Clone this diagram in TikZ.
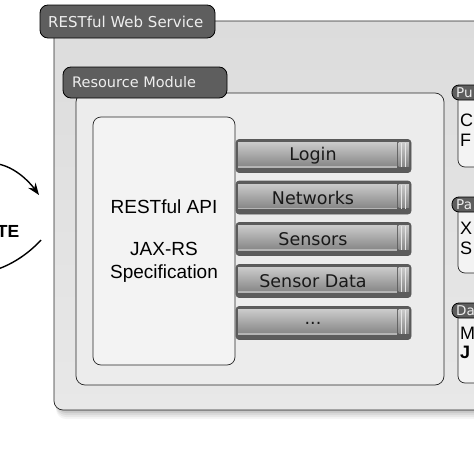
\documentclass[tikz,border=0pt]{standalone}
\usepackage{fontspec}
\setmainfont{Liberation Sans}
\newfontfamily\dvfont{DejaVu Sans}
\usetikzlibrary{arrows.meta}
\definecolor{tabfill}{HTML}{5E5E5E}
\definecolor{tabtext}{HTML}{EEEEEE}
\definecolor{outertop}{HTML}{DCDCDC}
\definecolor{outerbot}{HTML}{E8E8E8}
\definecolor{modfill}{HTML}{ECECEC}
\definecolor{innerfill}{HTML}{F3F3F3}
\definecolor{bardark}{HTML}{5C5C5C}
\definecolor{bartop}{HTML}{CACACA}
\definecolor{barmid}{HTML}{E2E2E2}
\definecolor{barbot}{HTML}{888888}
\definecolor{capline}{HTML}{E6E6E6}
\tikzset{
  tabbox/.style={draw=black, line width=0.8pt, fill=tabfill, rounded corners=8pt},
  tablabel/.style={text=tabtext, anchor=west, inner sep=0pt, font=\dvfont\fontsize{15}{15}\selectfont},
  smalltablabel/.style={text=tabtext, anchor=west, inner sep=0pt, font=\dvfont\fontsize{13.5}{13.5}\selectfont},
  panel/.style={draw=black!85, line width=0.7pt, rounded corners=9pt},
  bartext/.style={inner sep=0pt, text=black!90, font=\dvfont\fontsize{17.5}{17.5}\selectfont},
  apitext/.style={inner sep=0pt, align=center, font=\fontsize{19}{23}\selectfont},
  sidetext/.style={inner sep=0pt, anchor=west, font=\fontsize{18}{18}\selectfont},
  arc/.style={line width=1.4pt, black},
}
\newcommand{\resbar}[3]{%
  % #1 name, #2 centre y, #3 text
  \draw[draw=black!65, fill=bardark, rounded corners=3pt, line width=0.6pt] (236,#2-16.5) rectangle (411,#2+16.5);
  \fill[top color=bartop, middle color=barmid, bottom color=barbot] (238,#2-13.5) rectangle (397,#2+10);
  \fill[barmid!80!black] (238,#2+10) rectangle (397,#2+11.5);
  \fill[top color=bartop, middle color=barmid, bottom color=barbot] (398.5,#2-13.5) rectangle (409,#2+10);
  \draw[capline, line width=1pt] (401,#2-13) -- (401,#2+11) (405.5,#2-13) -- (405.5,#2+11);
  \node[bartext] (#1) at (313,#2) {#3};
}
\begin{document}
\begin{tikzpicture}[x=1pt,y=-1pt]
\useasboundingbox (0,0) rectangle (474,474);
\clip (0,0) rectangle (474,474);
\fill[white] (0,0) rectangle (474,474);

% left arcs
\coordinate (a1s) at (-2,164);
\coordinate (a1e) at (39,195);
\coordinate (a2s) at (41,240);
\coordinate (a2e) at (-2,269);
\draw[arc, -{Stealth[length=12pt,width=9pt]}] (a1s) .. controls (14,167) and (28,180) .. (a1e);
\draw[arc] (a2s) .. controls (30,252) and (15,263) .. (a2e);
\node[anchor=east, inner sep=0pt, font=\bfseries\fontsize{17.5}{17.5}\selectfont] (te) at (19.5,231) {TE};

% soft shadow of the outer box
\foreach \d/\o in {9/0.04,7/0.05,5/0.06,3/0.07,1/0.08}{
  \fill[black, opacity=\o, rounded corners=10pt] (56,30) rectangle (530,410+\d);
}

% outer web service box
\draw[panel, top color=outertop, bottom color=outerbot] (54,21) rectangle (530,410);
\draw[tabbox] (40,5) rectangle (215,38);
\node[tablabel] (wslabel) at (48,22) {RESTful Web Service};

% resource module
\draw[panel, fill=modfill] (76,93) rectangle (444,385);
\draw[tabbox] (63,67) rectangle (227,98);
\node[tablabel, font=\dvfont\fontsize{14.5}{14.5}\selectfont] (rmlabel) at (72,82.5) {Resource Module};

% RESTful API box
\draw[panel, fill=innerfill, rounded corners=8pt] (93,117) rectangle (235,365);
\node[apitext] (api) at (164,207) {RESTful API};
\node[apitext] (jax) at (164,262) {JAX-RS\\Specification};

% resource bars
\resbar{login}{156}{Login}
\resbar{networks}{197.5}{Networks}
\resbar{sensors}{239}{Sensors}
\resbar{sensordata}{281}{Sensor Data}
\resbar{more}{323}{...}

% right side modules (cut off)
\draw[panel, fill=innerfill, rounded corners=7pt] (458,93) rectangle (500,167);
\draw[tabbox, rounded corners=7pt] (452,85) rectangle (500,100);
\node[smalltablabel] (pulabel) at (456,92.5) {Pu};
\node[sidetext] (pu1) at (460,120) {C};
\node[sidetext] (pu2) at (460,140) {F};

\draw[panel, fill=innerfill, rounded corners=7pt] (458,205) rectangle (500,273);
\draw[tabbox, rounded corners=7pt] (452,197) rectangle (500,212);
\node[smalltablabel] (palabel) at (456,204.5) {Pa};
\node[sidetext] (pa1) at (460,228) {X};
\node[sidetext] (pa2) at (460,248) {S};

\draw[panel, fill=innerfill, rounded corners=7pt] (458,311) rectangle (500,383);
\draw[tabbox, rounded corners=7pt] (452,303) rectangle (500,318);
\node[smalltablabel] (dalabel) at (456,310.5) {Da};
\node[sidetext] (da1) at (460,333) {M};
\node[sidetext, font=\bfseries\fontsize{18}{18}\selectfont] (da2) at (460,352) {J};
\end{tikzpicture}
\end{document}
